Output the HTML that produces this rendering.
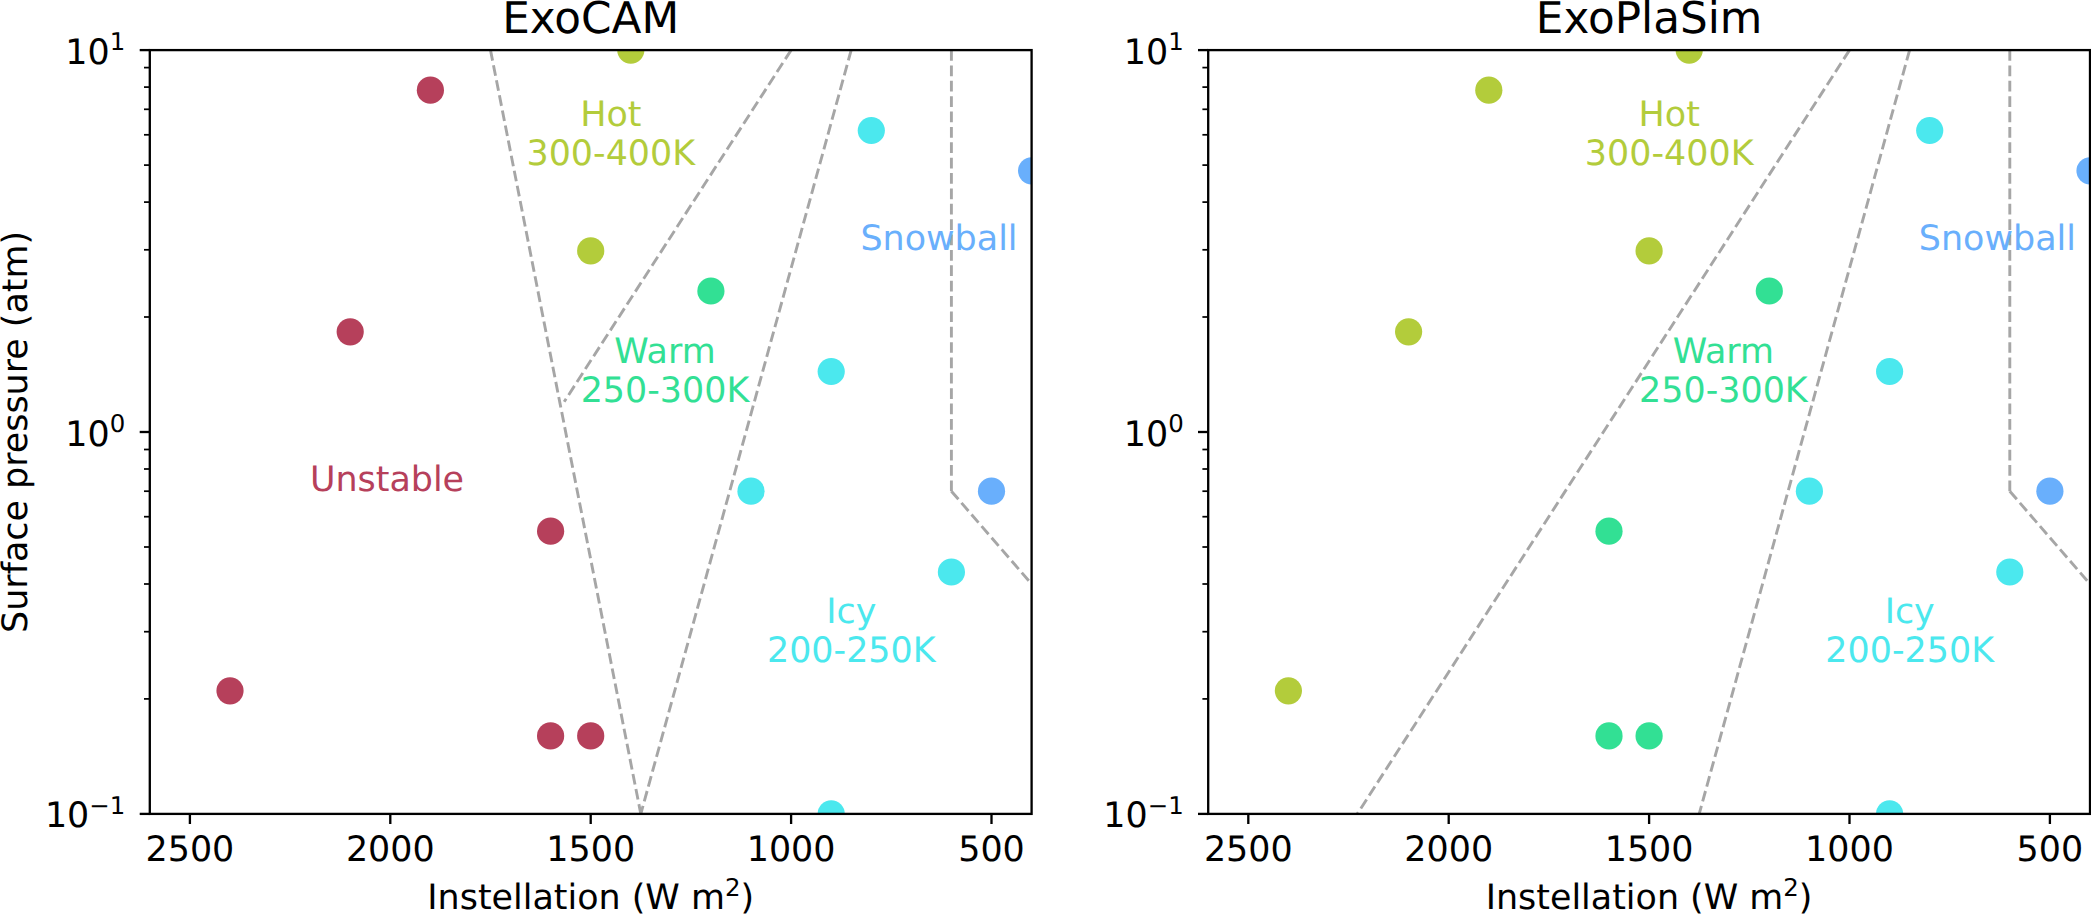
<!DOCTYPE html><html><head><meta charset="utf-8"><title>ExoCAM vs ExoPlaSim</title><style>html,body{margin:0;padding:0;background:#fff;overflow:hidden}svg{display:block}</style></head><body><svg width="2091" height="914" viewBox="0 0 2091 914" font-family="DejaVu Sans, Liberation Sans, sans-serif" text-rendering="geometricPrecision">
<rect width="2091" height="914" fill="#fff"/>
<defs>
<clipPath id="c0"><rect x="149.8" y="50.1" width="881.8" height="763.8"/></clipPath>
<clipPath id="c1"><rect x="1208.2" y="50.1" width="881.8" height="763.8"/></clipPath>
</defs>
<g clip-path="url(#c0)">
<path d="M490.5 50.1 L640.8 813.9" stroke="#a6a6a6" stroke-width="2.90" stroke-dasharray="10.73 4.64" fill="none"/>
<path d="M791.1 50.1 L564.2 401.8" stroke="#a6a6a6" stroke-width="2.90" stroke-dasharray="10.73 4.64" fill="none"/>
<path d="M851.2 50.1 L640.8 813.9" stroke="#a6a6a6" stroke-width="2.90" stroke-dasharray="10.73 4.64" fill="none"/>
<path d="M951.4 50.1 L951.4 491.2" stroke="#a6a6a6" stroke-width="2.90" stroke-dasharray="10.73 4.64" fill="none"/>
<path d="M951.4 491.2 L1031.6 584.0" stroke="#a6a6a6" stroke-width="2.90" stroke-dasharray="10.73 4.64" fill="none"/>
<circle cx="430.4" cy="90.2" r="13.6" fill="#b6405b"/>
<circle cx="350.2" cy="331.8" r="13.6" fill="#b6405b"/>
<circle cx="230.0" cy="690.8" r="13.6" fill="#b6405b"/>
<circle cx="550.6" cy="531.2" r="13.6" fill="#b6405b"/>
<circle cx="550.6" cy="735.9" r="13.6" fill="#b6405b"/>
<circle cx="590.7" cy="735.9" r="13.6" fill="#b6405b"/>
<circle cx="630.8" cy="50.1" r="13.6" fill="#b3cc3b"/>
<circle cx="590.7" cy="250.9" r="13.6" fill="#b3cc3b"/>
<circle cx="710.9" cy="291.0" r="13.6" fill="#32e094"/>
<circle cx="871.3" cy="130.5" r="13.6" fill="#4be8ee"/>
<circle cx="831.2" cy="371.5" r="13.6" fill="#4be8ee"/>
<circle cx="751.0" cy="491.2" r="13.6" fill="#4be8ee"/>
<circle cx="951.4" cy="572.0" r="13.6" fill="#4be8ee"/>
<circle cx="831.2" cy="813.9" r="13.6" fill="#4be8ee"/>
<circle cx="1031.6" cy="170.8" r="13.6" fill="#69affc"/>
<circle cx="991.5" cy="491.2" r="13.6" fill="#69affc"/>
</g>
<text x="610.8" y="126.3" font-size="34.9" text-anchor="middle" fill="#b3cc3b">Hot</text>
<text x="610.8" y="165.3" font-size="34.9" text-anchor="middle" fill="#b3cc3b">300-400K</text>
<text x="939.0" y="250.2" font-size="34.9" text-anchor="middle" fill="#69affc">Snowball</text>
<text x="665.0" y="363.0" font-size="34.9" text-anchor="middle" fill="#32e094">Warm</text>
<text x="665.0" y="402.0" font-size="34.9" text-anchor="middle" fill="#32e094">250-300K</text>
<text x="387.0" y="491.3" font-size="34.9" text-anchor="middle" fill="#b6405b">Unstable</text>
<text x="851.3" y="623.0" font-size="34.9" text-anchor="middle" fill="#4be8ee">Icy</text>
<text x="851.3" y="662.0" font-size="34.9" text-anchor="middle" fill="#4be8ee">200-250K</text>
<rect x="149.8" y="50.1" width="881.8" height="763.8" fill="none" stroke="#000" stroke-width="2.32"/>
<line x1="189.9" x2="189.9" y1="813.9" y2="824.0" stroke="#000" stroke-width="2.32"/>
<text x="189.9" y="861.0" font-size="34.9" text-anchor="middle">2500</text>
<line x1="390.3" x2="390.3" y1="813.9" y2="824.0" stroke="#000" stroke-width="2.32"/>
<text x="390.3" y="861.0" font-size="34.9" text-anchor="middle">2000</text>
<line x1="590.7" x2="590.7" y1="813.9" y2="824.0" stroke="#000" stroke-width="2.32"/>
<text x="590.7" y="861.0" font-size="34.9" text-anchor="middle">1500</text>
<line x1="791.1" x2="791.1" y1="813.9" y2="824.0" stroke="#000" stroke-width="2.32"/>
<text x="791.1" y="861.0" font-size="34.9" text-anchor="middle">1000</text>
<line x1="991.5" x2="991.5" y1="813.9" y2="824.0" stroke="#000" stroke-width="2.32"/>
<text x="991.5" y="861.0" font-size="34.9" text-anchor="middle">500</text>
<line x1="139.7" x2="149.8" y1="50.1" y2="50.1" stroke="#000" stroke-width="2.32"/>
<text x="125.3" y="63.6" font-size="34.9" text-anchor="end">10<tspan font-size="24.43" dy="-13.5">1</tspan></text>
<line x1="139.7" x2="149.8" y1="432.0" y2="432.0" stroke="#000" stroke-width="2.32"/>
<text x="125.3" y="445.5" font-size="34.9" text-anchor="end">10<tspan font-size="24.43" dy="-13.5">0</tspan></text>
<line x1="139.7" x2="149.8" y1="813.9" y2="813.9" stroke="#000" stroke-width="2.32"/>
<text x="125.3" y="827.4" font-size="34.9" text-anchor="end">10<tspan font-size="24.43" dy="-13.5">−1</tspan></text>
<line x1="144.0" x2="149.8" y1="698.9" y2="698.9" stroke="#000" stroke-width="1.74"/>
<line x1="144.0" x2="149.8" y1="631.7" y2="631.7" stroke="#000" stroke-width="1.74"/>
<line x1="144.0" x2="149.8" y1="584.0" y2="584.0" stroke="#000" stroke-width="1.74"/>
<line x1="144.0" x2="149.8" y1="547.0" y2="547.0" stroke="#000" stroke-width="1.74"/>
<line x1="144.0" x2="149.8" y1="516.7" y2="516.7" stroke="#000" stroke-width="1.74"/>
<line x1="144.0" x2="149.8" y1="491.2" y2="491.2" stroke="#000" stroke-width="1.74"/>
<line x1="144.0" x2="149.8" y1="469.0" y2="469.0" stroke="#000" stroke-width="1.74"/>
<line x1="144.0" x2="149.8" y1="449.5" y2="449.5" stroke="#000" stroke-width="1.74"/>
<line x1="144.0" x2="149.8" y1="317.0" y2="317.0" stroke="#000" stroke-width="1.74"/>
<line x1="144.0" x2="149.8" y1="249.8" y2="249.8" stroke="#000" stroke-width="1.74"/>
<line x1="144.0" x2="149.8" y1="202.1" y2="202.1" stroke="#000" stroke-width="1.74"/>
<line x1="144.0" x2="149.8" y1="165.1" y2="165.1" stroke="#000" stroke-width="1.74"/>
<line x1="144.0" x2="149.8" y1="134.8" y2="134.8" stroke="#000" stroke-width="1.74"/>
<line x1="144.0" x2="149.8" y1="109.3" y2="109.3" stroke="#000" stroke-width="1.74"/>
<line x1="144.0" x2="149.8" y1="87.1" y2="87.1" stroke="#000" stroke-width="1.74"/>
<line x1="144.0" x2="149.8" y1="67.6" y2="67.6" stroke="#000" stroke-width="1.74"/>
<text x="590.7" y="33.1" font-size="43.7" text-anchor="middle">ExoCAM</text>
<text x="590.7" y="909.4" font-size="34.9" text-anchor="middle">Instellation (W m<tspan font-size="24.43" dy="-13.5">2</tspan><tspan dy="13.5">)</tspan></text>
<g clip-path="url(#c1)">
<path d="M1849.5 50.1 L1357.3 813.9" stroke="#a6a6a6" stroke-width="2.90" stroke-dasharray="10.73 4.64" fill="none"/>
<path d="M1909.6 50.1 L1699.2 813.9" stroke="#a6a6a6" stroke-width="2.90" stroke-dasharray="10.73 4.64" fill="none"/>
<path d="M2009.8 50.1 L2009.8 491.2" stroke="#a6a6a6" stroke-width="2.90" stroke-dasharray="10.73 4.64" fill="none"/>
<path d="M2009.8 491.2 L2090.0 584.0" stroke="#a6a6a6" stroke-width="2.90" stroke-dasharray="10.73 4.64" fill="none"/>
<circle cx="1488.8" cy="90.2" r="13.6" fill="#b3cc3b"/>
<circle cx="1408.6" cy="331.8" r="13.6" fill="#b3cc3b"/>
<circle cx="1288.4" cy="690.8" r="13.6" fill="#b3cc3b"/>
<circle cx="1609.0" cy="531.2" r="13.6" fill="#32e094"/>
<circle cx="1609.0" cy="735.9" r="13.6" fill="#32e094"/>
<circle cx="1649.1" cy="735.9" r="13.6" fill="#32e094"/>
<circle cx="1689.2" cy="50.1" r="13.6" fill="#b3cc3b"/>
<circle cx="1649.1" cy="250.9" r="13.6" fill="#b3cc3b"/>
<circle cx="1769.3" cy="291.0" r="13.6" fill="#32e094"/>
<circle cx="1929.7" cy="130.5" r="13.6" fill="#4be8ee"/>
<circle cx="1889.6" cy="371.5" r="13.6" fill="#4be8ee"/>
<circle cx="1809.4" cy="491.2" r="13.6" fill="#4be8ee"/>
<circle cx="2009.8" cy="572.0" r="13.6" fill="#4be8ee"/>
<circle cx="1889.6" cy="813.9" r="13.6" fill="#4be8ee"/>
<circle cx="2090.0" cy="170.8" r="13.6" fill="#69affc"/>
<circle cx="2049.9" cy="491.2" r="13.6" fill="#69affc"/>
</g>
<text x="1669.2" y="126.3" font-size="34.9" text-anchor="middle" fill="#b3cc3b">Hot</text>
<text x="1669.2" y="165.3" font-size="34.9" text-anchor="middle" fill="#b3cc3b">300-400K</text>
<text x="1997.4" y="250.2" font-size="34.9" text-anchor="middle" fill="#69affc">Snowball</text>
<text x="1723.4" y="363.0" font-size="34.9" text-anchor="middle" fill="#32e094">Warm</text>
<text x="1723.4" y="402.0" font-size="34.9" text-anchor="middle" fill="#32e094">250-300K</text>
<text x="1909.7" y="623.0" font-size="34.9" text-anchor="middle" fill="#4be8ee">Icy</text>
<text x="1909.7" y="662.0" font-size="34.9" text-anchor="middle" fill="#4be8ee">200-250K</text>
<rect x="1208.2" y="50.1" width="881.8" height="763.8" fill="none" stroke="#000" stroke-width="2.32"/>
<line x1="1248.3" x2="1248.3" y1="813.9" y2="824.0" stroke="#000" stroke-width="2.32"/>
<text x="1248.3" y="861.0" font-size="34.9" text-anchor="middle">2500</text>
<line x1="1448.7" x2="1448.7" y1="813.9" y2="824.0" stroke="#000" stroke-width="2.32"/>
<text x="1448.7" y="861.0" font-size="34.9" text-anchor="middle">2000</text>
<line x1="1649.1" x2="1649.1" y1="813.9" y2="824.0" stroke="#000" stroke-width="2.32"/>
<text x="1649.1" y="861.0" font-size="34.9" text-anchor="middle">1500</text>
<line x1="1849.5" x2="1849.5" y1="813.9" y2="824.0" stroke="#000" stroke-width="2.32"/>
<text x="1849.5" y="861.0" font-size="34.9" text-anchor="middle">1000</text>
<line x1="2049.9" x2="2049.9" y1="813.9" y2="824.0" stroke="#000" stroke-width="2.32"/>
<text x="2049.9" y="861.0" font-size="34.9" text-anchor="middle">500</text>
<line x1="1198.0" x2="1208.2" y1="50.1" y2="50.1" stroke="#000" stroke-width="2.32"/>
<text x="1183.7" y="63.6" font-size="34.9" text-anchor="end">10<tspan font-size="24.43" dy="-13.5">1</tspan></text>
<line x1="1198.0" x2="1208.2" y1="432.0" y2="432.0" stroke="#000" stroke-width="2.32"/>
<text x="1183.7" y="445.5" font-size="34.9" text-anchor="end">10<tspan font-size="24.43" dy="-13.5">0</tspan></text>
<line x1="1198.0" x2="1208.2" y1="813.9" y2="813.9" stroke="#000" stroke-width="2.32"/>
<text x="1183.7" y="827.4" font-size="34.9" text-anchor="end">10<tspan font-size="24.43" dy="-13.5">−1</tspan></text>
<line x1="1202.4" x2="1208.2" y1="698.9" y2="698.9" stroke="#000" stroke-width="1.74"/>
<line x1="1202.4" x2="1208.2" y1="631.7" y2="631.7" stroke="#000" stroke-width="1.74"/>
<line x1="1202.4" x2="1208.2" y1="584.0" y2="584.0" stroke="#000" stroke-width="1.74"/>
<line x1="1202.4" x2="1208.2" y1="547.0" y2="547.0" stroke="#000" stroke-width="1.74"/>
<line x1="1202.4" x2="1208.2" y1="516.7" y2="516.7" stroke="#000" stroke-width="1.74"/>
<line x1="1202.4" x2="1208.2" y1="491.2" y2="491.2" stroke="#000" stroke-width="1.74"/>
<line x1="1202.4" x2="1208.2" y1="469.0" y2="469.0" stroke="#000" stroke-width="1.74"/>
<line x1="1202.4" x2="1208.2" y1="449.5" y2="449.5" stroke="#000" stroke-width="1.74"/>
<line x1="1202.4" x2="1208.2" y1="317.0" y2="317.0" stroke="#000" stroke-width="1.74"/>
<line x1="1202.4" x2="1208.2" y1="249.8" y2="249.8" stroke="#000" stroke-width="1.74"/>
<line x1="1202.4" x2="1208.2" y1="202.1" y2="202.1" stroke="#000" stroke-width="1.74"/>
<line x1="1202.4" x2="1208.2" y1="165.1" y2="165.1" stroke="#000" stroke-width="1.74"/>
<line x1="1202.4" x2="1208.2" y1="134.8" y2="134.8" stroke="#000" stroke-width="1.74"/>
<line x1="1202.4" x2="1208.2" y1="109.3" y2="109.3" stroke="#000" stroke-width="1.74"/>
<line x1="1202.4" x2="1208.2" y1="87.1" y2="87.1" stroke="#000" stroke-width="1.74"/>
<line x1="1202.4" x2="1208.2" y1="67.6" y2="67.6" stroke="#000" stroke-width="1.74"/>
<text x="1649.1" y="33.1" font-size="43.7" text-anchor="middle">ExoPlaSim</text>
<text x="1649.1" y="909.4" font-size="34.9" text-anchor="middle">Instellation (W m<tspan font-size="24.43" dy="-13.5">2</tspan><tspan dy="13.5">)</tspan></text>
<text transform="translate(26.7,431.9) rotate(-90)" font-size="34.9" text-anchor="middle">Surface pressure (atm)</text>
</svg></body></html>
